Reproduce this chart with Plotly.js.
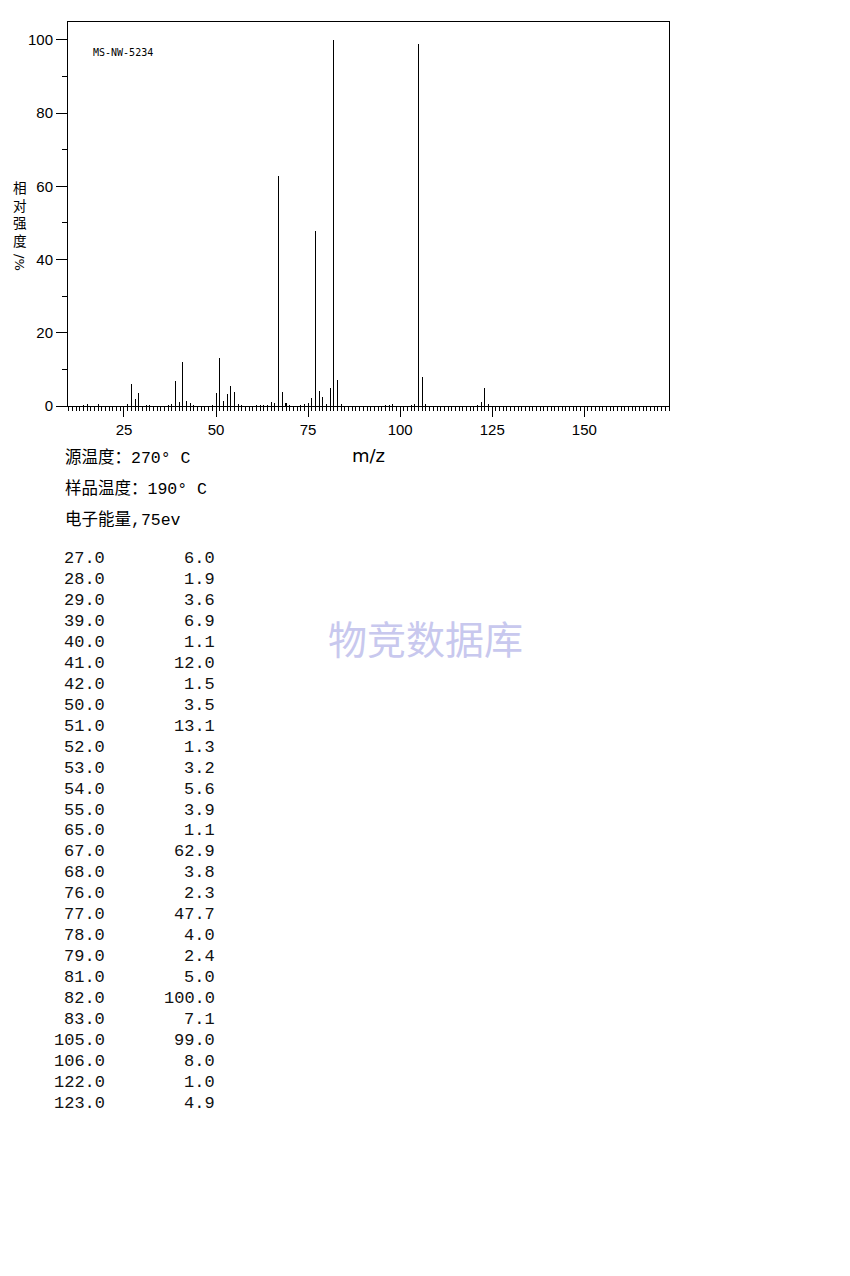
<!DOCTYPE html>
<html>
<head>
<meta charset="utf-8">
<script src="https://cdn.plot.ly/plotly-3.0.1.min.js"></script>
<style>html,body{margin:0;padding:0;background:#fff;}#chart{width:850px;height:1276px;}</style>
</head>
<body>
<div id="chart"></div>
<script>
// Listed peaks (m/z, relative intensity %)
const tableMz = [27,28,29,39,40,41,42,50,51,52,53,54,55,65,67,68,76,77,78,79,81,82,83,105,106,122,123];
const tableIntensity = [6.0,1.9,3.6,6.9,1.1,12.0,1.5,3.5,13.1,1.3,3.2,5.6,3.9,1.1,62.9,3.8,2.3,47.7,4.0,2.4,5.0,100.0,7.1,99.0,8.0,1.0,4.9];
// Small unlisted peaks
const minorMz = [14,15,18,26,31,32,37,38,43,44,49,56,57,61,62,63,64,66,69,70,73,74,75,80,84,96,97,98,103,104,107,121,124];
const minorIntensity = [0.3,0.5,0.5,0.5,0.3,0.3,0.3,0.5,0.8,0.3,0.3,0.5,0.3,0.3,0.3,0.3,0.3,0.8,0.8,0.3,0.3,0.6,0.8,0.5,0.5,0.3,0.3,0.5,0.3,0.5,0.5,0.3,0.5];

const sampleId = "MS-NW-5234";
const xTitle = "m/z";
const yTitleChars = ["相","对","强","度"];
const yTitleUnit = "/%";
const conditions = ["源温度：270° C", "样品温度：190° C", "电子能量,75ev"];
const watermark = "物竞数据库";

const allMz = tableMz.concat(minorMz);
const allInt = tableIntensity.concat(minorIntensity);

// pixel helpers for annotation placement (plot area: x 68..669, y 22..406)
const PX = X => (X - 68) / 601;
const PY = Y => (406 - Y) / 384;

const annotations = [];
const base = {xref: "paper", yref: "paper", showarrow: false};

annotations.push(Object.assign({}, base, {
  x: PX(91), y: PY(53), xanchor: "left", yanchor: "middle",
  text: sampleId, font: {family: "DejaVu Sans Mono", size: 10, color: "#000"}
}));
annotations.push(Object.assign({}, base, {
  x: PX(368), y: PY(455), xanchor: "center", yanchor: "middle",
  text: xTitle, font: {family: "DejaVu Sans", size: 18, color: "#000"}
}));
annotations.push(Object.assign({}, base, {
  x: PX(20), y: PY(213.5), xanchor: "center", yanchor: "middle",
  text: yTitleChars.join("<br>"), font: {family: "Noto Sans CJK SC", size: 13.6, color: "#000"}
}));
annotations.push(Object.assign({}, base, {
  x: PX(20), y: PY(262), xanchor: "center", yanchor: "middle", textangle: 90,
  text: yTitleUnit, font: {family: "DejaVu Sans", size: 13, color: "#000"}
}));
const condY = [458, 489, 520];
conditions.forEach((t, i) => {
  annotations.push(Object.assign({}, base, {
    x: PX(63), y: PY(condY[i]), xanchor: "left", yanchor: "middle",
    text: t, font: {family: "Liberation Mono, Noto Sans CJK SC", size: 16.5, color: "#000"}
  }));
});
tableMz.forEach((m, i) => {
  const Y = 558.5 + i * 20.96;
  annotations.push(Object.assign({}, base, {
    x: PX(107), y: PY(Y), xanchor: "right", yanchor: "middle",
    text: m.toFixed(1), font: {family: "Liberation Mono", size: 17, color: "#111"}
  }));
  annotations.push(Object.assign({}, base, {
    x: PX(217), y: PY(Y), xanchor: "right", yanchor: "middle",
    text: tableIntensity[i].toFixed(1), font: {family: "Liberation Mono", size: 17, color: "#111"}
  }));
});
annotations.push(Object.assign({}, base, {
  x: PX(425), y: PY(637), xanchor: "center", yanchor: "middle",
  text: watermark, font: {family: "Noto Sans CJK SC", size: 39, color: "#c8c8ee"}
}));

const trace = {
  type: "bar", x: allMz, y: allInt, width: 0.28,
  marker: {color: "#000", line: {width: 0}},
  hoverinfo: "x+y"
};

const layout = {
  width: 850, height: 1276,
  margin: {l: 68, r: 181, t: 22, b: 870, pad: 0},
  paper_bgcolor: "#fff", plot_bgcolor: "#fff",
  showlegend: false,
  font: {family: "Liberation Sans", size: 15, color: "#000"},
  bargap: 0,
  xaxis: {
    range: [9.8, 173.0], tickmode: "linear", tick0: 0, dtick: 25,
    ticks: "outside", ticklen: 10, tickwidth: 1, tickcolor: "#000",
    showline: true, linecolor: "#000", linewidth: 1, mirror: true,
    showgrid: false, zeroline: false,
    tickfont: {family: "Liberation Sans", size: 15, color: "#000"},
    minor: {tickmode: "linear", tick0: 0, dtick: 1, ticks: "outside", ticklen: 4, tickcolor: "#000", tickwidth: 1, showgrid: false}
  },
  xaxis2: {
    overlaying: "x", anchor: "y", side: "bottom",
    range: [9.8, 173.0], tickmode: "linear", tick0: 0, dtick: 5,
    ticks: "outside", ticklen: 7, tickwidth: 1, tickcolor: "#000",
    showticklabels: false, showline: false, showgrid: false, zeroline: false
  },
  yaxis: {
    range: [0, 104.9], tickmode: "linear", tick0: 0, dtick: 20,
    ticks: "outside", ticklen: 11, tickwidth: 1, tickcolor: "#000",
    showline: true, linecolor: "#000", linewidth: 1, mirror: true,
    showgrid: false, zeroline: false,
    tickfont: {family: "Liberation Sans", size: 15, color: "#000"},
    minor: {tickmode: "linear", tick0: 0, dtick: 10, ticks: "outside", ticklen: 5, tickcolor: "#000", tickwidth: 1, showgrid: false}
  },
  annotations: annotations
};

Plotly.newPlot("chart", [trace], layout, {staticPlot: true, displayModeBar: false});
</script>
</body>
</html>
